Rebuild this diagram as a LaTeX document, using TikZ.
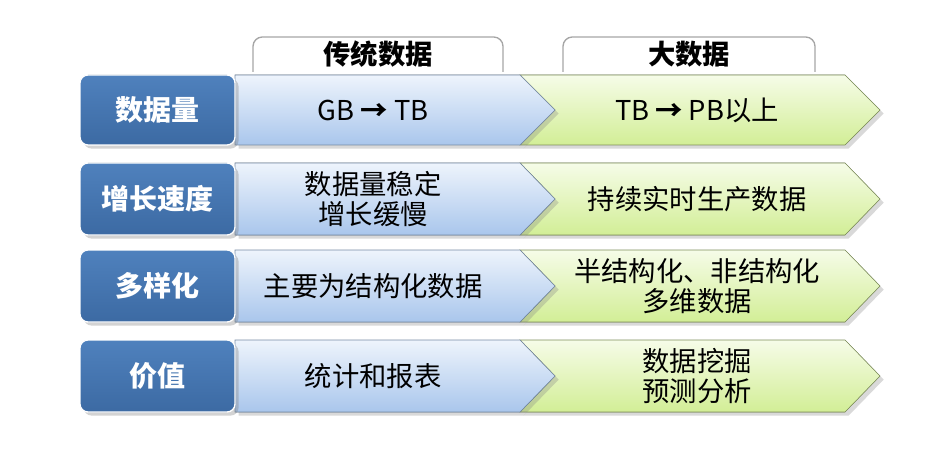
\documentclass[tikz,border=0pt]{standalone}
\usepackage{fontspec}
\setmainfont{Noto Sans CJK SC}
\usetikzlibrary{positioning, shadows}
\definecolor{hdblue}{HTML}{4F81BD}
\definecolor{hdbluedk}{HTML}{3C6AA3}
\definecolor{arrblue}{HTML}{A9C6EC}
\definecolor{arrbluelt}{HTML}{EEF4FC}
\definecolor{arrgreen}{HTML}{D2EE96}
\definecolor{arrgreenlt}{HTML}{F6FCE8}
\tikzset{
  lbl/.style={rounded corners=6pt, top color=hdblue, bottom color=hdbluedk, draw=white, line width=1pt, drop shadow={opacity=0.35}},
  bluearr/.style={top color=arrbluelt, bottom color=arrblue, draw=arrblue!70!black, line width=0.4pt, drop shadow={opacity=0.3}},
  greenarr/.style={top color=arrgreenlt, bottom color=arrgreen, draw=arrgreen!60!black, line width=0.4pt, drop shadow={opacity=0.3}},
  tab/.style={draw=gray!70, line width=1pt, rounded corners=7pt},
  lbltext/.style={text=white, font=\bfseries\fontsize{21}{24}\selectfont},
  celltext/.style={align=center, font=\fontsize{20.5}{22}\selectfont},
  tabtext/.style={font=\bfseries\fontsize{20.5}{24}\selectfont}
}
\begin{document}
\begin{tikzpicture}[x=0.75pt, y=-0.75pt]
  \useasboundingbox (0,0) rectangle (928,449);
  % header tabs
  \draw[tab] (253,72) -- (253,37) -- (503,37) -- (503,72);
  \draw[tab] (563,72) -- (563,37) -- (815,37) -- (815,72);
  \node[tabtext] (tab1) at (378,54) {传统数据};
  \node[tabtext] (tab2) at (689,54) {大数据};
  % rows
  \foreach \name/\top/\bot/\ltxt/\btxt/\gtxt in {
      r1/75/145/数据量/{GB \textbf{→} TB}/{TB \textbf{→} PB以上},
      r2/163/235/增长速度/{数据量稳定\\增长缓慢}/{持续实时生产数据},
      r3/250/322/多样化/{主要为结构化数据}/{半结构化、非结构化\\多维数据},
      r4/340/412/价值/{统计和报表}/{数据挖掘\\预测分析}} {
    \pgfmathsetmacro{\mid}{(\top+\bot)/2}
    \fill[greenarr] (520,\top) -- (845,\top) -- (880,\mid) -- (845,\bot) -- (520,\bot) -- (555,\mid) -- cycle;
    \fill[bluearr] (235,\top) -- (520,\top) -- (555,\mid) -- (520,\bot) -- (235,\bot) -- cycle;
    \fill[lbl] (80,\top) rectangle (235,\bot);
    \node[lbltext] (\name l) at (157,\mid) {\ltxt};
    \node[celltext] (\name b) at (373,\mid) {\btxt};
    \node[celltext] (\name g) at (697,\mid) {\gtxt};
  }
\end{tikzpicture}
\end{document}
